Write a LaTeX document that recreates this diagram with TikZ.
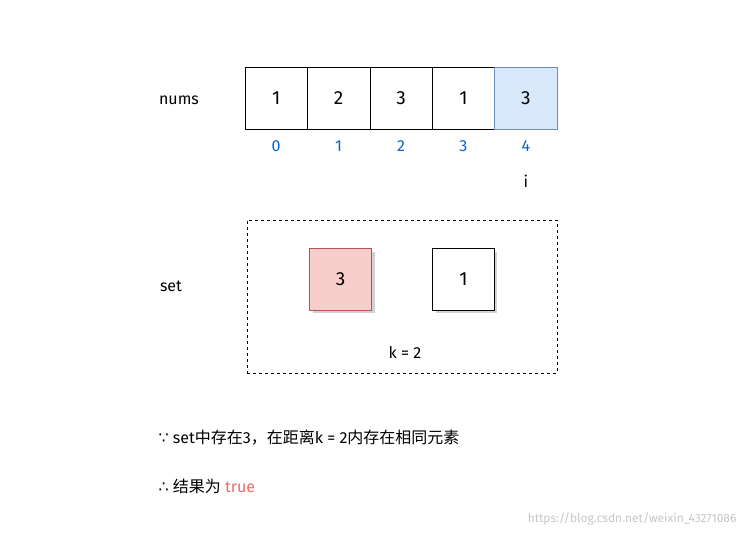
\documentclass[tikz,border=0pt]{standalone}
\usepackage{fontspec}
\setmainfont{Fira Sans}
\newfontfamily\cjk{Noto Sans CJK SC}
\newfontfamily\dv{DejaVu Sans}
\definecolor{idx}{HTML}{0066CC}
\definecolor{hl}{HTML}{DAE8FC}
\definecolor{hlb}{HTML}{6C8EBF}
\definecolor{pk}{HTML}{F8CECC}
\definecolor{pkb}{HTML}{B85450}
\definecolor{tr}{HTML}{EA6B66}
\begin{document}
\begin{tikzpicture}[x=1pt,y=-1pt,
 cell/.style={draw,minimum width=62.4pt,minimum height=62pt,font=\fontsize{19}{19}\selectfont,inner sep=0},
 sbox/.style={draw,minimum width=62pt,minimum height=62pt,font=\fontsize{19}{19}\selectfont,inner sep=0},
 lab/.style={font=\fontsize{16}{16}\selectfont},
 ix/.style={font=\fontsize{16}{16}\selectfont,text=idx}]
\useasboundingbox (0,0) rectangle (748,536);
\foreach \v [count=\i from 0] in {1,2,3,1} {
 \node[cell] (c\i) at ({276.2+62.4*\i},98) {\v};
 \node[ix] (i\i) at ({276.2+62.4*\i},146) {\i};
}
\node[cell,fill=hl,draw=hlb] (c4) at (525.8,98) {3};
\node[ix] (i4) at (525.8,146) {4};
\node[lab] (iv) at (525.8,181) {i};
\node[lab] (nums) at (179,100) {nums};
\node[lab] (setl) at (171,286) {set};
\node[draw,dashed,minimum width=310pt,minimum height=153pt] (frame) at (402,296.5) {};
\fill[gray!35] (313,252) rectangle (375,313);
\node[sbox,fill=pk,draw=pkb] (s1) at (340.5,279.5) {3};
\fill[gray!35] (436,252) rectangle (497,313);
\node[sbox,fill=white] (s2) at (463.5,279.5) {1};
\node[lab] (k) at (405,352) {k = 2};
\node[lab,anchor=west] (t1) at (155,438) {{\dv ∵} set{\cjk 中存在}3{\cjk ，在距离}k = 2{\cjk 内存在相同元素}};
\node[lab,anchor=west] (t2) at (155,486) {{\dv ∴} {\cjk 结果为} \textcolor{tr}{true}};
\node[anchor=east,text=gray!45,font=\fontsize{12}{12}\selectfont] (wm) at (740,519) {https://blog.csdn.net/weixin\_43271086};
\end{tikzpicture}
\end{document}
